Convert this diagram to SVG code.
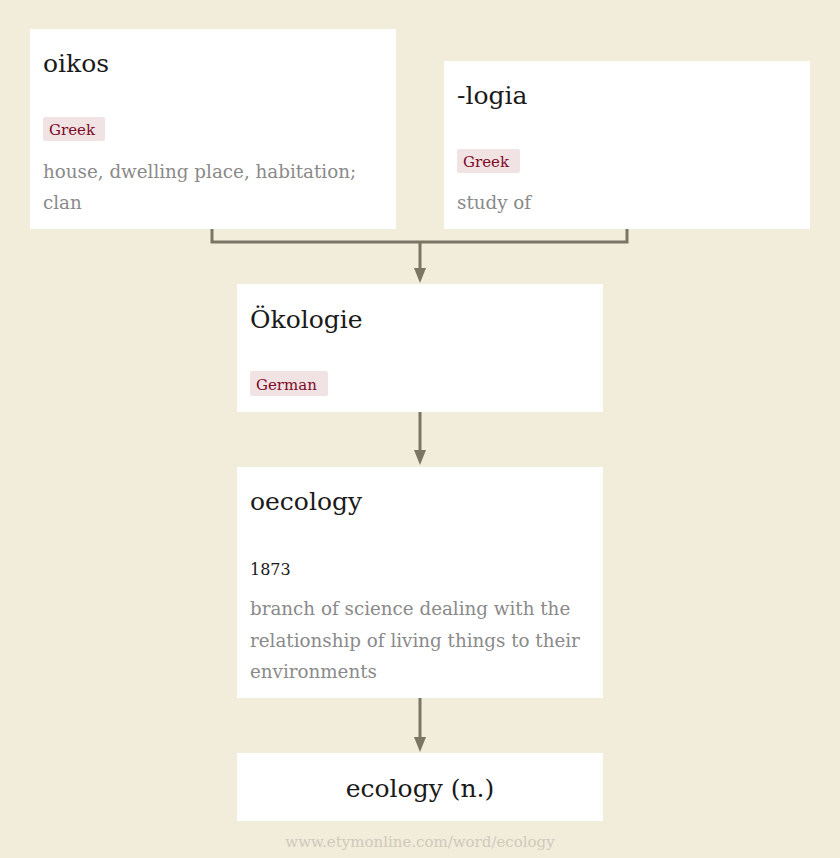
<svg xmlns="http://www.w3.org/2000/svg" width="840" height="858" viewBox="0 0 840 858">
<style>
.box{fill:#ffffff}
.title{font-family:"DejaVu Serif","Liberation Serif",serif;font-size:25px;fill:#1a1a1a}
.tagbg{fill:#f1e2e4}
.tag{font-family:"DejaVu Serif","Liberation Serif",serif;font-size:15px;fill:#7d0a26}
.desc{font-family:"DejaVu Serif","Liberation Serif",serif;font-size:18.3px;fill:#8a8a8a}
.year{font-family:"DejaVu Serif","Liberation Serif",serif;font-size:16px;fill:#1a1a1a}
.foot{font-family:"DejaVu Serif","Liberation Serif",serif;font-size:15px;fill:#cfc9bb}
.conn{fill:none;stroke:#7b7565;stroke-width:3}
.head{fill:#7b7565}
</style>
<rect width="840" height="858" fill="#f2ecdb"/>
<g id="connectors">
<path class="conn" d="M212,229 V242 H627 V229"/>
<path class="conn" d="M420,242 V270"/>
<path class="head" d="M414,268 L426,268 L420,283 Z"/>
<path class="conn" d="M420,412 V452"/>
<path class="head" d="M414,450 L426,450 L420,465 Z"/>
<path class="conn" d="M420,698 V739"/>
<path class="head" d="M414,737 L426,737 L420,752 Z"/>
</g>
<g id="node-oikos">
<rect class="box" x="30" y="29" width="366" height="200"/>
<text class="title" x="43" y="72">oikos</text>
<rect class="tagbg" x="43" y="117" width="62" height="24" rx="2"/>
<text class="tag" x="49" y="135">Greek</text>
<text class="desc" x="43" y="178">house, dwelling place, habitation;</text>
<text class="desc" x="43" y="209">clan</text>
</g>
<g id="node-logia">
<rect class="box" x="444" y="61" width="366" height="168"/>
<text class="title" x="457" y="104">-logia</text>
<rect class="tagbg" x="457" y="149" width="63" height="24" rx="2"/>
<text class="tag" x="463" y="167">Greek</text>
<text class="desc" x="457" y="209">study of</text>
</g>
<g id="node-okologie">
<rect class="box" x="237" y="284" width="366" height="128"/>
<text class="title" x="250" y="328">Ökologie</text>
<rect class="tagbg" x="250" y="371" width="78" height="25" rx="2"/>
<text class="tag" x="256" y="390">German</text>
</g>
<g id="node-oecology">
<rect class="box" x="237" y="467" width="366" height="231"/>
<text class="title" x="250" y="510">oecology</text>
<text class="year" x="250" y="575">1873</text>
<text class="desc" x="250" y="615">branch of science dealing with the</text>
<text class="desc" x="250" y="647">relationship of living things to their</text>
<text class="desc" x="250" y="678">environments</text>
</g>
<g id="node-ecology">
<rect class="box" x="237" y="753" width="366" height="68"/>
<text class="title" x="420" y="797" text-anchor="middle">ecology (n.)</text>
</g>
<text class="foot" x="420" y="847" text-anchor="middle">www.etymonline.com/word/ecology</text>
</svg>
